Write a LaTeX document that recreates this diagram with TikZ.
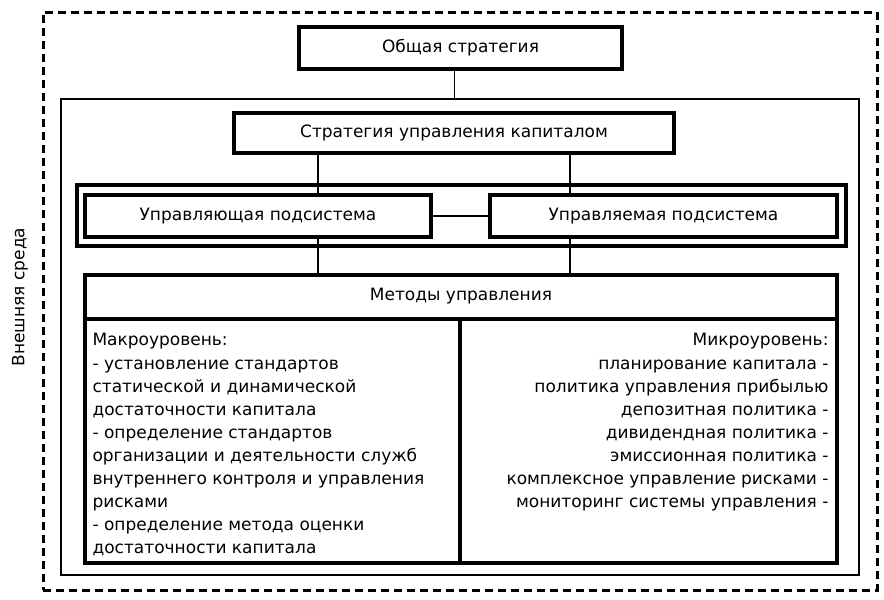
\documentclass[tikz,border=0pt]{standalone}
\usepackage{fontspec}
\setmainfont{DejaVu Sans}
\begin{document}
\begin{tikzpicture}[x=1pt,y=-1pt,
    framebox/.style={draw,line width=3.5pt,inner sep=0pt},
    link/.style={line width=1.2pt},
    txt/.style={font=\fontsize{17}{23.1}\selectfont}]
    \useasboundingbox (0,0) rectangle (884,600);
    \node (env) [draw,line width=3pt,dash pattern=on 8pt off 5pt,minimum width=834pt,minimum height=578pt] at (460,301) {};
    \node (capital) [draw,line width=1.5pt,minimum width=798pt,minimum height=476pt] at (460,337) {};
    \node (general) [framebox,minimum width=323pt,minimum height=42pt,txt] at (460.5,48) {Общая стратегия};
    \node (strat) [framebox,minimum width=440pt,minimum height=40pt,txt] at (454,133) {Стратегия управления капиталом};
    \node (sys) [framebox,minimum width=769pt,minimum height=61pt] at (461.5,215.5) {};
    \node (ctrl) [framebox,minimum width=346pt,minimum height=42pt,txt] at (258,216) {Управляющая подсистема};
    \node (ctrld) [framebox,minimum width=347pt,minimum height=42pt,txt] at (663.5,216) {Управляемая подсистема};
    \node (methods) [framebox,minimum width=752pt,minimum height=288pt] at (461,419) {};
    \node (mhead) [txt] at (461,296) {Методы управления};
    \coordinate (hline) at (0,319);
    \coordinate (vline) at (460,0);
    \coordinate (lt) at (318,0);
    \coordinate (rt) at (570,0);
    \draw[line width=3.5pt] (methods.west |- hline) -- (methods.east |- hline);
    \draw[line width=3.5pt] (vline |- hline) -- (vline |- methods.south);
    \node (macro) [txt,anchor=north west,align=left] at (89,330) {Макроуровень:\\- установление стандартов\\статической и динамической\\достаточности капитала\\- определение стандартов\\организации и деятельности служб\\внутреннего контроля и управления\\рисками\\- определение метода оценки\\достаточности капитала};
    \node (micro) [txt,anchor=north east,align=right] at (832,330) {Микроуровень:\\планирование капитала -\\политика управления прибылью\\депозитная политика -\\дивидендная политика -\\эмиссионная политика -\\комплексное управление рисками -\\мониторинг системы управления -};
    \node (outside) [txt,rotate=90] at (20,297) {Внешняя среда};
    \draw[link] ([xshift=-6pt]general.south) -- ([xshift=-6pt]general.south |- capital.north);
    \draw[link] (strat.south -| lt) -- (ctrl.north -| lt);
    \draw[link] (strat.south -| rt) -- (ctrld.north -| rt);
    \draw[link] (ctrl.east) -- (ctrld.west);
    \draw[link] (ctrl.south -| lt) -- (methods.north -| lt);
    \draw[link] (ctrld.south -| rt) -- (methods.north -| rt);
\end{tikzpicture}
\end{document}
